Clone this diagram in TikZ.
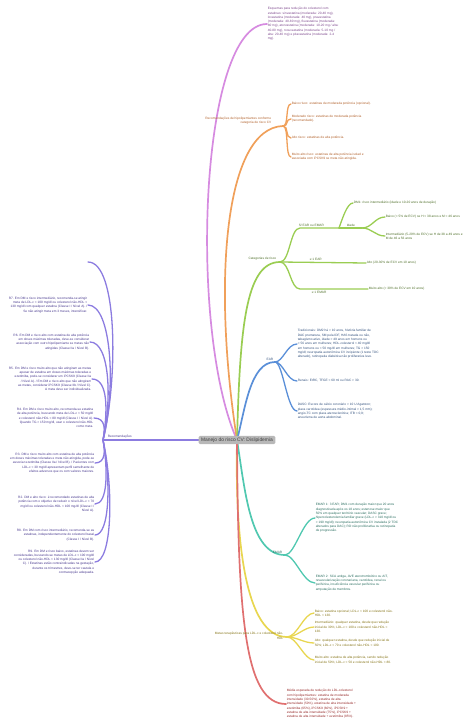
\documentclass[tikz,border=0pt]{standalone}
\usepackage{fontspec}
\setmainfont{Liberation Sans}
\usetikzlibrary{backgrounds}
\definecolor{lviolet}{HTML}{D68BE0}
\definecolor{tviolet}{HTML}{7E4A8E}
\definecolor{lorange}{HTML}{F0A05A}
\definecolor{torange}{HTML}{B0602A}
\definecolor{lgreen}{HTML}{9ACD52}
\definecolor{tgreen}{HTML}{4F6F2A}
\definecolor{lblue}{HTML}{5A8FD8}
\definecolor{tblue}{HTML}{34527E}
\definecolor{lteal}{HTML}{50C8B0}
\definecolor{tteal}{HTML}{2A6E60}
\definecolor{lyellow}{HTML}{E8D650}
\definecolor{tyellow}{HTML}{857418}
\definecolor{lred}{HTML}{E07070}
\definecolor{tred}{HTML}{962A2A}
\definecolor{lpurple}{HTML}{8C7CE0}
\definecolor{tpurple}{HTML}{48398E}
\begin{document}
\begin{tikzpicture}[x=1pt,y=-1pt,
  txt/.style={font=\fontsize{3.2}{4.3}\selectfont, inner sep=0.6pt, align=left},
  txtr/.style={txt, align=right},
  br/.style={line width=1.7pt, line cap=round},
  sub/.style={line width=1.3pt, line cap=round},
  rootbox/.style={fill=black!28, rounded corners=1.2pt, inner xsep=2.5pt, inner ysep=1.8pt,
     font=\fontsize{4.9}{6}\selectfont, text=black!75}]
\useasboundingbox (0,0) rectangle (474,728);

% ---------- root ----------
\node[rootbox] (root) at (237,440) {Manejo do risco CV: Dislipidemia};

% ---------- top violet ----------
\node[txt, text=tviolet, anchor=west] (vt) at (267,24) {Esquemas para redução do colesterol com\\ estatinas: sinvastatina (moderada: 20-40 mg),\\ lovastatina (moderada: 40 mg), pravastatina\\ (moderada: 40-80 mg), fluvastatina (moderada:\\ 80 mg), atorvastatina (moderada: 10-20 mg / alta:\\ 40-80 mg), rosuvastatina (moderada: 5-10 mg /\\ alta: 20-40 mg) e pitavastatina (moderada: 2-4\\ mg).};

% ---------- orange ----------
\coordinate (ob) at (283,126);
\node[txtr, text=torange, anchor=south east] (ol) at (272,125) {Recomendações de hipolipemiantes conforme\\ categoria de risco CV};
\node[txt, text=torange, anchor=west] (o1) at (291,104) {Baixo risco: estatinas de moderada potência (opcional).};
\node[txt, text=torange, anchor=west] (o2) at (291,119) {Moderado risco: estatinas de moderada potência\\ (recomendado).};
\node[txt, text=torange, anchor=west] (o3) at (291,138) {Alto risco: estatinas de alta potência.};
\node[txt, text=torange, anchor=west] (o4) at (291,157) {Muito alto risco: estatinas de alta potência isolad e\\ associada com iPCSK9 se meta não atingida.};

% ---------- green ----------
\coordinate (gb) at (280,262);
\node[txtr, text=tgreen, anchor=south east] (gl) at (277,261) {Categorias de risco};
\coordinate (g1a) at (300,228);
\coordinate (g1) at (339,228);
\node[txt, text=tgreen, anchor=south west] (g1l) at (298,227) {S/ EAR ou EMAR};
\coordinate (g2) at (362,228);
\node[txt, text=tgreen, anchor=south west] (g2l) at (346,227) {Idade};
\node[txt, text=tgreen, anchor=west] (ga) at (353,203) {DM1: risco intermediário (idade e 10-20 anos de duração)};
\node[txt, text=tgreen, anchor=west] (gb1) at (385,217) {Baixo (< 5\% de ECV) se H < 38 anos e M < 46 anos};
\node[txt, text=tgreen, anchor=west] (gb2) at (385,236) {Intermediário (5-20\% de ECV) se H de 38 a 49 anos e\\ M de 46 a 56 anos};
\node[txt, text=tgreen, anchor=south west] (g3l) at (309,261) {≥ 1 EAR};
\node[txt, text=tgreen, anchor=west] (gc) at (366,263) {Alto (20-30\% de ECV em 10 anos)};
\coordinate (g4a) at (300,289);
\node[txt, text=tgreen, anchor=north west] (g4l) at (311,290) {≥ 1 EMAR};
\node[txt, text=tgreen, anchor=west] (gd) at (368,289) {Muito alto (> 30\% de ECV em 10 anos)};

% ---------- blue ----------
\coordinate (bb) at (275,362);
\node[txtr, text=tblue, anchor=south east] (bl) at (274,361) {EAR};
\node[txt, text=tblue, anchor=west] (b1) at (297,344) {Tradicionais: DM2 há > 10 anos, história familiar de\\ DAC prematura, SM pela IDF, HAS tratada ou não,\\ tabagismo ativo, idade > 49 anos em homens ou\\ > 56 anos em mulheres; HDL-colesterol < 40 mg/dl\\ em homens ou < 50 mg/dl em mulheres; TG > 150\\ mg/dl; neuropatia autonômica CV incipiente (1 teste TDC\\ alterado), retinopatia diabética não proliferativa leve.};
\node[txt, text=tblue, anchor=west] (b2) at (297,381) {Renais: EtRC, TFGE < 60 ml ou RAC > 30.};
\node[txt, text=tblue, anchor=west] (b3) at (297,411) {DASC: Escore de cálcio coronário > 10 U Agatston;\\ placa carotídea (espessura médio-intimal > 1,5 mm);\\ angio-TC com placa aterosclerótica; ITB < 0,9;\\ aneurisma de aorta abdominal.};

% ---------- teal ----------
\coordinate (tb) at (285,555);
\node[txtr, text=tteal, anchor=south east] (tl) at (283,554) {EMAR};
\node[txt, text=tteal, anchor=west] (t1) at (315,518) {EMAR 1: 3 EAR; DM1 com duração maior que 20 anos\\ diagnosticada após os 18 anos; estenose maior que\\ 50\% em qualquer território vascular; DASC grave;\\ hipercolesterolemia familiar grave (LDL-c > 310 mg/dl ou\\ > 190 mg/dl); neuropatia autonômica CV instalada (2 TDC\\ alterados para DAC); RD não proliferativa ou retinopatia\\ de progressão.};
\node[txt, text=tteal, anchor=west] (t2) at (315,583) {EMAR 2: SCA antiga, AVE aterotrombótico ou AIT,\\ revascularização coronariana, carotídea, renal ou\\ periférica, insuficiência vascular periférica ou\\ amputação de membros.};

% ---------- yellow ----------
\coordinate (yb) at (287,637);
\node[txtr, text=tyellow, anchor=south east] (yl) at (284,640) {Metas terapêuticas para LDL-c e colesterol não-\\ HDL};
\node[txt, text=tyellow, anchor=west] (y1) at (314,613) {Baixo: estatina opcional; LDL-c < 100 e colesterol não-\\ HDL < 130.};
\node[txt, text=tyellow, anchor=west] (y2) at (314,627) {Intermediário: qualquer estatina, desde que redução\\ inicial de 30\%; LDL-c < 100 e colesterol não-HDL <\\ 130.};
\node[txt, text=tyellow, anchor=west] (y3) at (314,643) {Alto: qualquer estatina, desde que redução inicial de\\ 50\%; LDL-c < 70 e colesterol não-HDL < 100.};
\node[txt, text=tyellow, anchor=west] (y4) at (314,660) {Muito alto: estatina de alta potência, sendo redução\\ inicial de 50\%; LDL-c < 50 e colesterol não-HDL < 80.};

% ---------- red ----------
\node[txt, text=tred, anchor=west] (rt) at (286,704) {Média esperada de redução do LDL-colesterol\\ com hipolipemiantes: estatina de moderada\\ intensidade (30-50\%), estatina de alta\\ intensidade (50\%), estatina de alta intensidade +\\ ezetimiba (65\%), iPCSK9 (60\%), iPCSK9 +\\ estatina de alta intensidade (75\%), iPCSK9 +\\ estatina de alta intensidade + ezetimiba (85\%).};

% ---------- left purple ----------
\coordinate (lb) at (103,440);
\node[txt, text=tpurple, anchor=south west] (ll) at (107,439) {Recomendações};
\coordinate (l0) at (88,262);
\node[txtr, text=tpurple, anchor=east] (r7) at (88,305) {R7. Em DM e risco intermediário, recomenda-se atingir\\ meta de LDL-c < 100 mg/dl ou colesterol não-HDL <\\ 130 mg/dl com qualquer estatina (Classe I / Nível A). /\\ Se não atingir meta em 3 meses, intensificar.};
\node[txtr, text=tpurple, anchor=east] (r6) at (90,342) {R6. Em DM e risco alto com estatina de alta potência\\ em doses máximas toleradas, deve-se considerar\\ associação com outro hipolipemiante se metas não\\ atingidas (Classe IIa / Nível B).};
\node[txtr, text=tpurple, anchor=east] (r5) at (92,379) {R5. Em DM e risco muito alto que não atingiram as metas\\ apesar de estatina em doses máximas toleradas e\\ ezetimiba, pode-se considerar um iPCSK9 (Classe IIa\\ / Nível A). / Em DM e risco alto que não atingiram\\ as metas, considerar iPCSK9 (Classe IIb / Nível C).\\ A meta deve ser individualizada.};
\node[txtr, text=tpurple, anchor=east] (r4) at (94,418) {R4. Em DM e risco muito alto, recomenda-se estatina\\ de alta potência, buscando meta de LDL-c < 50 mg/dl\\ e colesterol não-HDL < 80 mg/dl (Classe I / Nível A).\\ Quando TG > 150 mg/dl, usar o colesterol não-HDL\\ como meta.};
\node[txtr, text=tpurple, anchor=east] (r3) at (95,463) {R3. DM e risco muito alto com estatina de alta potência\\ em doses máximas toleradas e meta não atingida, pode-se\\ associar ezetimiba (Classe IIa / Nível B). / Pacientes com\\ LDL-c < 30 mg/dl apresentam perfil semelhante de\\ efeitos adversos que os com valores maiores.};
\node[txtr, text=tpurple, anchor=east] (r2) at (95,504) {R2. DM e alto risco: é recomendado estatinas de alta\\ potência com o objetivo de reduzir o nível LDL-c < 70\\ mg/dl ou colesterol não-HDL < 100 mg/dl (Classe I /\\ Nível A).};
\node[txtr, text=tpurple, anchor=east] (r8) at (95,535) {R8. Em DM com risco intermediário, recomenda-se as\\ estatinas, independentemente do colesterol basal\\ (Classe I / Nível B).};
\node[txtr, text=tpurple, anchor=east] (r9) at (95,562) {R9. Em DM e risco baixo, estatinas devem ser\\ consideradas, buscando-se metas de LDL-c < 100 mg/dl\\ ou colesterol não-HDL < 130 mg/dl (Classe IIa / Nível\\ C). / Estatinas estão contraindicadas na gestação,\\ durante os trimestres, deve-se ter cautela e\\ contracepção adequada.};

% ---------- connectors ----------
\begin{scope}[on background layer]
\draw[br, lviolet] (root.center) .. controls (188,330) and (200,24) .. (vt.west);
\draw[br, lorange] (root.center) .. controls (212,280) and (225,128) .. (ob);
\draw[br, lgreen] (root.center) .. controls (240,330) and (245,262) .. (gb);
\draw[br, lblue] (root.center) .. controls (245,410) and (250,362) .. (bb);
\draw[br, lteal] (root.center) .. controls (245,490) and (250,555) .. (tb);
\draw[br, lyellow] (root.center) .. controls (235,540) and (245,637) .. (yb);
\draw[br, lred] (root.center) .. controls (238,620) and (245,704) .. (rt.west);
\draw[br, lpurple] (root.center) -- (lb);

\foreach \n in {o1,o2,o3,o4}
  \draw[sub, lorange] (ob) .. controls +(6,0) and +(-6,0) .. (\n.west);

\draw[sub, lgreen] (gb) .. controls +(10,0) and +(-10,0) .. (g1a) -- (g1);
\draw[sub, lgreen] (g1) .. controls +(3,-8) and +(-6,0) .. (ga.west);
\draw[sub, lgreen] (g1) -- (g2);
\draw[sub, lgreen] (g2) .. controls +(10,0) and +(-10,0) .. (gb1.west);
\draw[sub, lgreen] (g2) .. controls +(10,0) and +(-10,0) .. (gb2.west);
\draw[sub, lgreen] (gb) -- (gc.west);
\draw[sub, lgreen] (gb) .. controls +(10,0) and +(-10,0) .. (g4a) -- (gd.west);

\foreach \n in {b1,b2,b3}
  \draw[sub, lblue] (bb) .. controls +(8,0) and +(-10,0) .. (\n.west);
\foreach \n in {t1,t2}
  \draw[sub, lteal] (tb) .. controls +(10,0) and +(-12,0) .. (\n.west);
\foreach \n in {y1,y2,y3,y4}
  \draw[sub, lyellow] (yb) .. controls +(10,0) and +(-10,0) .. (\n.west);

\draw[sub, lpurple] (lb) .. controls (118,380) and (118,262) .. (l0);
\draw[sub, lpurple] (lb) .. controls (116,390) and (112,305) .. (r7.east);
\draw[sub, lpurple] (lb) .. controls (112,400) and (110,342) .. (r6.east);
\draw[sub, lpurple] (lb) .. controls (108,410) and (108,379) .. (r5.east);
\draw[sub, lpurple] (lb) .. controls (105,430) and (106,418) .. (r4.east);
\draw[sub, lpurple] (lb) .. controls (105,450) and (106,463) .. (r3.east);
\draw[sub, lpurple] (lb) .. controls (108,470) and (108,504) .. (r2.east);
\draw[sub, lpurple] (lb) .. controls (111,480) and (110,535) .. (r8.east);
\draw[sub, lpurple] (lb) .. controls (114,490) and (112,562) .. (r9.east);
\end{scope}
\end{tikzpicture}
\end{document}
